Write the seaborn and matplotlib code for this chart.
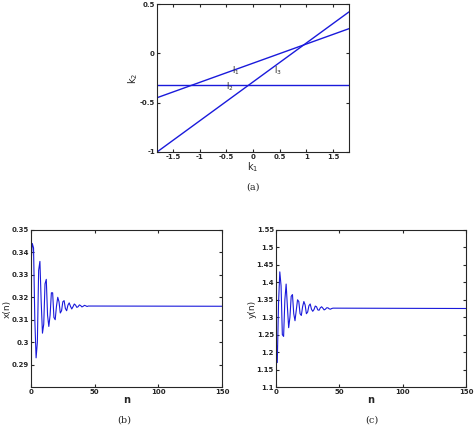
import matplotlib
matplotlib.use("Agg")
import matplotlib.pyplot as plt
import seaborn as sns
import numpy as np

sns.set_style("ticks")
plt.rcParams['font.family'] = ['DejaVu Sans']

# top panel lines: endpoints
k1_ends = [-1.8, 1.8]
l1_vals = [-0.45, 0.25]
l2_vals = [-0.32, -0.32]
l3_vals = [-1.0, 0.42]

n_x = list(range(46)) + [150]
x_vals = [0.335,0.344,0.342,0.31,0.293,0.30,0.332,0.336,0.318,0.304,0.308,0.326,0.328,0.312,0.307,0.312,
          0.322,0.322,0.311,0.310,0.316,0.320,0.318,0.313,0.314,0.318,0.3185,0.315,0.314,0.3165,0.3175,
          0.316,0.3148,0.3158,0.317,0.3165,0.3155,0.3158,0.3166,0.3163,0.3157,0.316,0.3164,0.3162,0.3159,0.3161,0.316]
y_vals = [1.25,1.17,1.34,1.43,1.39,1.25,1.245,1.35,1.395,1.33,1.27,1.30,1.36,1.365,1.31,1.29,1.32,1.35,1.345,
          1.31,1.305,1.33,1.345,1.335,1.31,1.315,1.333,1.338,1.323,1.317,1.322,1.332,1.33,1.321,1.320,1.327,
          1.330,1.326,1.321,1.323,1.327,1.327,1.324,1.323,1.325,1.326,1.325]

c = '#1a1adb'
fig = plt.figure(figsize=(4.74, 4.26), dpi=100)
W, H = 474, 426
def ax_at(x0, y0, x1, y1):
    return fig.add_axes([x0/W, 1-y1/H, (x1-x0)/W, (y1-y0)/H])

tk = dict(fontsize=5, fontweight='bold')
ax = ax_at(157, 4, 349, 152)
for v in (l1_vals, l2_vals, l3_vals):
    sns.lineplot(x=k1_ends, y=v, ax=ax, color=c, lw=1)
ax.set_xlim(-1.8, 1.8); ax.set_ylim(-1, 0.5)
ax.set_xticks([-1.5,-1,-0.5,0,0.5,1,1.5]); ax.set_xticklabels(['-1.5','-1','-0.5','0','0.5','1','1.5'], **tk)
ax.set_yticks([-1,-0.5,0,0.5]); ax.set_yticklabels(['-1','-0.5','0','0.5'], **tk)
ax.set_xlabel('k$_1$', fontsize=7, labelpad=0); ax.set_ylabel('k$_2$', fontsize=7, labelpad=0)
ax.text(-0.4, -0.2, 'l$_1$', fontsize=6); ax.text(-0.5, -0.37, 'l$_2$', fontsize=6); ax.text(0.4, -0.2, 'l$_3$', fontsize=6)
fig.text(253/W, 1-190/H, '(a)', family='DejaVu Serif', fontsize=7, ha='center')

ax = ax_at(31, 230, 222, 387)
sns.lineplot(x=n_x, y=x_vals, ax=ax, color=c, lw=0.8)
ax.set_xlim(0, 150); ax.set_ylim(0.28, 0.35)
ax.set_xticks([0,50,100,150]); ax.set_xticklabels(['0','50','100','150'], **tk)
ax.set_yticks([0.29,0.3,0.31,0.32,0.33,0.34,0.35]); ax.set_yticklabels(['0.29','0.3','0.31','0.32','0.33','0.34','0.35'], **tk)
ax.set_xlabel('n', fontsize=7, fontweight='bold', labelpad=0); ax.set_ylabel('x(n)', fontsize=6.5, labelpad=0)
fig.text(124/W, 1-423/H, '(b)', family='DejaVu Serif', fontsize=7, ha='center')

ax = ax_at(276, 230, 466, 387)
sns.lineplot(x=n_x, y=y_vals, ax=ax, color=c, lw=0.8)
ax.set_xlim(0, 150); ax.set_ylim(1.1, 1.55)
ax.set_xticks([0,50,100,150]); ax.set_xticklabels(['0','50','100','150'], **tk)
yt = [1.1,1.15,1.2,1.25,1.3,1.35,1.4,1.45,1.5,1.55]
ax.set_yticks(yt); ax.set_yticklabels(['1.1','1.15','1.2','1.25','1.3','1.35','1.4','1.45','1.5','1.55'], **tk)
ax.set_xlabel('n', fontsize=7, fontweight='bold', labelpad=0); ax.set_ylabel('y(n)', fontsize=6.5, labelpad=0)
fig.text(372/W, 1-423/H, '(c)', family='DejaVu Serif', fontsize=7, ha='center')

for a in fig.axes:
    a.tick_params(direction='in', length=2, pad=1.5, top=True, right=True)
fig.savefig('out.png', dpi=100)
